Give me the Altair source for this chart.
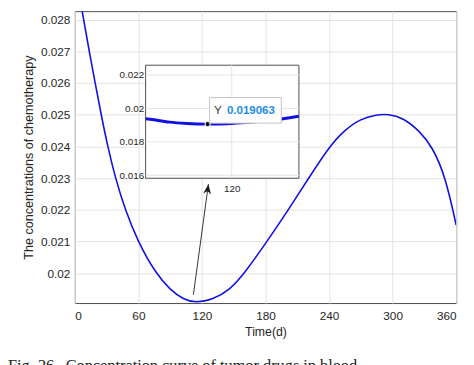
import altair as alt
import pandas as pd

# ---------------- data ----------------
main_x = [0, 8.3, 13.6, 19.2, 24.9, 31, 38.3, 47.5, 59.5, 76.3, 90.2, 102.6, 114,
          130.4, 145.8, 159.8, 181.4, 201.5, 220, 240.1, 254, 269.5, 284.9, 295.8,
          309.7, 325.1, 337.5, 349.8, 360]
main_y = [0.0296, 0.028, 0.027, 0.026, 0.025, 0.024, 0.023, 0.022, 0.021, 0.020,
          0.01947, 0.01917, 0.019063, 0.01917, 0.01946, 0.01998, 0.021, 0.022, 0.02296,
          0.02399, 0.0245, 0.02487, 0.025, 0.02502, 0.02491, 0.0245, 0.02399, 0.02306,
          0.02152]

x_ticks = [0, 60, 120, 180, 240, 300, 360]
y_ticks = [0.02, 0.021, 0.022, 0.023, 0.024, 0.025, 0.026, 0.027, 0.028]

inset_x = [95, 97.5, 102, 107, 113, 121, 126, 130.5, 135, 139.5]
inset_y = [0.01938, 0.01932, 0.01918, 0.0191, 0.019063, 0.01912, 0.01918, 0.01928,
           0.01938, 0.01953]
inset_x_ticks = [120]
inset_y_ticks = [0.016, 0.018, 0.02, 0.022]

tip_x = [113]
tip_y = [0.019063]

arrow_x0, arrow_y0 = [111.9], [0.01932]
arrow_x1, arrow_y1 = [126.1], [0.02281]

caption_left = "Fig. 26"
caption_right = "Concentration curve of tumor drugs in blood"

# ---------------- styling ----------------
FONT = "Liberation Sans"
TXT = "#262626"
BLUE = "#1010e6"
W, H = 388, 297

main_df = pd.DataFrame({"t": main_x, "c": main_y})
inset_df = pd.DataFrame({"t": inset_x, "c": inset_y})
tip_df = pd.DataFrame({"t": tip_x, "c": tip_y})
arrow_df = pd.DataFrame({"x0": arrow_x0, "y0": arrow_y0, "x1": arrow_x1, "y1": arrow_y1})

mx = alt.Scale(domain=[0, 360], nice=False, zero=False)
my = alt.Scale(domain=[0.01906, 0.028268], nice=False, zero=False)

main_line = alt.Chart(main_df).mark_line(
    color=BLUE, strokeWidth=1.6, clip=True, interpolate="basis"
).encode(
    x=alt.X("t:Q", scale=mx, axis=alt.Axis(
        orient="bottom", values=x_ticks, title="Time(d)", grid=True,
        gridColor="#e3e3e3", domain=False, tickSize=0, labelPadding=8,
        labelFont=FONT, labelFontSize=12, labelColor=TXT, titleFont=FONT,
        titleFontSize=12.5, titleFontWeight="normal", titleColor=TXT, titlePadding=4)),
    y=alt.Y("c:Q", scale=my, axis=alt.Axis(
        orient="left", values=y_ticks, format="~g",
        title="The concentrations of chemotherapy", grid=True, gridColor="#e3e3e3",
        domain=False, tickSize=0, labelPadding=5, labelFont=FONT, labelFontSize=12,
        labelColor=TXT, titleFont=FONT, titleFontSize=12.8, titleFontWeight="normal",
        titleColor=TXT, titlePadding=5)),
)

arrow_line = alt.Chart(arrow_df).mark_rule(color="#333333", strokeWidth=1).encode(
    x=alt.X("x0:Q", scale=mx, axis=None), x2="x1:Q",
    y=alt.Y("y0:Q", scale=my, axis=None), y2="y1:Q",
)
arrow_head = alt.Chart(arrow_df).mark_point(
    shape="M0,0L-0.8,2L0,1.4L0.8,2Z", size=100, filled=True, color="#1a1a1a",
    opacity=1, angle=7.7,
).encode(
    x=alt.X("x1:Q", scale=mx, axis=None),
    y=alt.Y("y1:Q", scale=my, axis=None),
)

caption1 = alt.Chart(pd.DataFrame({"s": [caption_left]})).mark_text(
    font="Liberation Serif", fontSize=16.6, color="#222222", align="left",
    baseline="alphabetic"
).encode(x=alt.value(-68), y=alt.value(366.5), text="s:N")
caption2 = alt.Chart(pd.DataFrame({"s": [caption_right]})).mark_text(
    font="Liberation Serif", fontSize=16.6, color="#222222", align="left",
    baseline="alphabetic"
).encode(x=alt.value(-9.3), y=alt.value(366.5), text="s:N")

# ---------------- inset ----------------
ix = alt.Scale(domain=[95, 139.5], range=[72, 228], nice=False, zero=False)
iy = alt.Scale(domain=[0.015824, 0.022588], range=[170, 55], nice=False, zero=False)

inset_bg = alt.Chart(pd.DataFrame({"k": [0]})).mark_rect(
    fill="white", stroke="#4d4d4d", strokeWidth=1
).encode(x=alt.value(72), x2=alt.value(228), y=alt.value(55), y2=alt.value(170))

grid_h = alt.Chart(pd.DataFrame({"v": inset_y_ticks})).mark_rule(
    color="#e3e3e3", strokeWidth=1
).encode(y=alt.Y("v:Q", scale=iy, axis=None), x=alt.value(72), x2=alt.value(228))
grid_v = alt.Chart(pd.DataFrame({"v": inset_x_ticks})).mark_rule(
    color="#e3e3e3", strokeWidth=1
).encode(x=alt.X("v:Q", scale=ix, axis=None), y=alt.value(55), y2=alt.value(170))

inset_line = alt.Chart(inset_df).mark_line(
    color=BLUE, strokeWidth=3, interpolate="natural"
).encode(
    x=alt.X("t:Q", scale=ix, axis=alt.Axis(
        orient="bottom", offset=-(H - 170), values=inset_x_ticks, grid=False,
        domain=False, tickSize=0, labelPadding=6, labelFont=FONT, labelFontSize=10,
        labelColor=TXT, title=None)),
    y=alt.Y("c:Q", scale=iy, axis=alt.Axis(
        orient="left", offset=-72, values=inset_y_ticks, format="~g", grid=False,
        domain=False, tickSize=0, labelPadding=2, labelFont=FONT, labelFontSize=10,
        labelColor=TXT, title=None)),
)

tip_dot = alt.Chart(tip_df).mark_point(
    filled=True, color="#111111", size=28, opacity=1, stroke="white", strokeWidth=1
).encode(x=alt.X("t:Q", scale=ix, axis=None), y=alt.Y("c:Q", scale=iy, axis=None))

tip_box = alt.Chart(tip_df).mark_rect(
    fill="white", stroke="#c4c4c4", strokeWidth=1,
    xOffset=2, x2Offset=75, yOffset=-27, y2Offset=-1
).encode(
    x=alt.X("t:Q", scale=ix, axis=None), x2="t:Q",
    y=alt.Y("c:Q", scale=iy, axis=None), y2="c:Q",
)
tip_label = alt.Chart(tip_df).mark_text(
    text="Y", font=FONT, fontSize=12, color="#404040", align="center",
    baseline="middle", dx=10.6, dy=-14.6
).encode(x=alt.X("t:Q", scale=ix, axis=None), y=alt.Y("c:Q", scale=iy, axis=None))
tip_value = alt.Chart(tip_df).mark_text(
    font=FONT, fontSize=11.7, fontWeight="bold", color="#1a8ee6", align="left",
    baseline="middle", dx=19.7, dy=-14.6
).encode(
    x=alt.X("t:Q", scale=ix, axis=None), y=alt.Y("c:Q", scale=iy, axis=None),
    text=alt.Text("c:Q", format=".6f"),
)

chart = alt.layer(
    main_line, arrow_line, arrow_head, caption1, caption2,
    inset_bg, grid_h, grid_v, inset_line, tip_dot, tip_box, tip_label, tip_value
).resolve_scale(
    x="independent", y="independent"
).properties(
    width=W, height=H,
    autosize=alt.AutoSizeParams(type="none"),
    padding={"left": 68, "top": 0, "right": 10, "bottom": 70},
).configure_view(stroke="#4d4d4d", strokeWidth=1)

chart.save("out.html", embed_options={"renderer": "svg", "actions": False})
